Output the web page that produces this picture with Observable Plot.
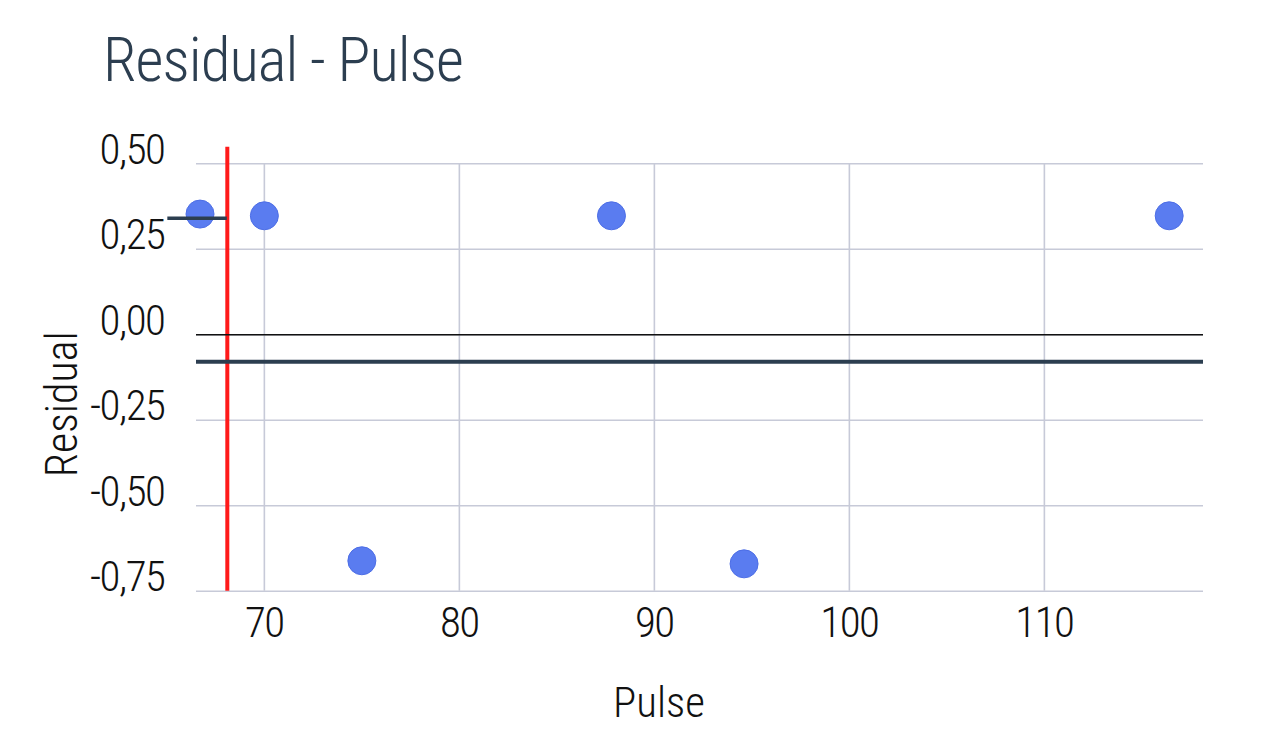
<!DOCTYPE html>
<html>
<head>
<meta charset="utf-8">
<script src="https://cdn.jsdelivr.net/npm/d3@7"></script>
<script src="https://cdn.jsdelivr.net/npm/@observablehq/plot@0.6"></script>
<style>
  html, body { margin: 0; padding: 0; background: #fff; }
  body { width: 1280px; height: 750px; overflow: hidden; font-family: "Roboto Condensed", "Liberation Sans Narrow", "DejaVu Sans Condensed", sans-serif; font-weight: 300; }
  #title { height: 90px; padding-top: 30px; padding-left: 103px; box-sizing: content-box;
           font-size: 61px; line-height: 60px; color: #2c3e50; font-weight: 300; letter-spacing: -1px; }
  #chart svg { display: block; }
  #chart svg g[aria-label="x-axis tick label"] text,
  #chart svg g[aria-label="y-axis tick label"] text { letter-spacing: -1.5px; }
</style>
</head>
<body>
<div id="title">Residual - Pulse</div>
<div id="chart"></div>
<script>
// Data
const pulse    = [66.7, 70, 75, 87.8, 94.6, 116.4];
const residual = [0.353, 0.348, -0.661, 0.348, -0.670, 0.348];
const xTicks = [70, 80, 90, 100, 110];
const yTicks = [-0.75, -0.5, -0.25, 0, 0.25, 0.5];
const meanResidual = [-0.079];
const zeroLine = [0];
const markerX = [68.1];
const markerSegment = [{y: 0.341, x1: 65.05, x2: 68.1}];
const xLabel = "Pulse";
const yLabel = "Residual";

const points = pulse.map((p, i) => ({pulse: p, residual: residual[i]}));
const fmt = d => d.toFixed(2).replace(".", ",");
const FONT = '"Roboto Condensed", "Liberation Sans Narrow", "DejaVu Sans Condensed", sans-serif';

const chart = Plot.plot({
  width: 1280,
  height: 630,
  marginLeft: 196,
  marginRight: 77,
  marginTop: 26.7,
  marginBottom: 159.3,
  style: {fontFamily: FONT, fontWeight: 300, color: "#111", background: "#fff"},
  x: {domain: [66.52, 118.16], ticks: xTicks},
  y: {domain: [-0.75, 0.5486], ticks: yTicks},
  marks: [
    Plot.ruleY(yTicks, {stroke: "#c7cad8", strokeWidth: 1.6}),
    Plot.ruleX(xTicks, {y1: -0.75, y2: 0.5, stroke: "#c7cad8", strokeWidth: 1.6}),
    Plot.ruleX(markerX, {y1: -0.75, y2: 0.5486, stroke: "#ff1a1a", strokeWidth: 4}),
    Plot.ruleY(zeroLine, {stroke: "#111", strokeWidth: 1.5}),
    Plot.ruleY(meanResidual, {stroke: "#2c3e50", strokeWidth: 4}),
    Plot.dot(points, {x: "pulse", y: "residual", r: 14, fill: "#5a7cf0", stroke: "#4d6ee6", strokeWidth: 1}),
    Plot.ruleY(markerSegment, {y: "y", x1: "x1", x2: "x2", stroke: "#2c3e50", strokeWidth: 3.5}),
    Plot.axisX(xTicks, {tickSize: 0, tickPadding: 46, lineAnchor: "bottom", fontSize: 43, label: null, fill: "#111"}),
    Plot.axisY(yTicks, {tickSize: 0, tickPadding: 32, lineAnchor: "bottom", fontSize: 43, label: null, tickFormat: fmt, fill: "#111"}),
    Plot.text([xLabel], {frameAnchor: "bottom", dx: -41, dy: 126, lineAnchor: "bottom", fontSize: 43, fill: "#111"}),
    Plot.text([yLabel], {frameAnchor: "left", dx: -119.3, dy: 108, rotate: -90, lineAnchor: "bottom", fontSize: 44, fill: "#111"})
  ]
});
document.getElementById("chart").appendChild(chart);
</script>
</body>
</html>
